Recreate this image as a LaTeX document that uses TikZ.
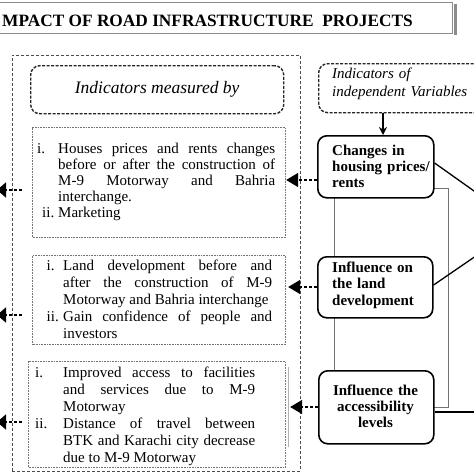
\documentclass[tikz,border=0pt]{standalone}
\usepackage{fontspec}
\setmainfont{Liberation Serif}
\usetikzlibrary{arrows.meta}
\newcommand\lbl[2]{\leavevmode\llap{\makebox[#1][l]{#2}}}
\newcommand\listpar[2]{\parbox[t]{#1}{\parindent=0pt\emergencystretch=0pt #2}}
\begin{document}
\begin{tikzpicture}[x=1pt,y=-1pt,
  outerbox/.style={draw=black!70, line width=0.6pt, dash pattern=on 3pt off 2pt, inner sep=0pt},
  roundbox/.style={draw=black!85, line width=1.4pt, dash pattern=on 3pt off 1.5pt, rounded corners=9pt, inner sep=0pt},
  listbox/.style={draw=black!55, fill=white, line width=1.2pt, dash pattern=on 1pt off 0.6pt, inner sep=0pt},
  varbox/.style={draw=black, fill=white, line width=1.6pt, rounded corners=9pt, inner sep=0pt},
  listtext/.style={inner sep=0pt, anchor=base west, font=\fontsize{15}{16}\selectfont},
  vartext/.style={inner sep=0pt, anchor=base west, align=left, text width=110pt, font=\bfseries\fontsize{15}{16.3}\selectfont},
  darrow/.style={line width=1.6pt, dash pattern=on 3pt off 2pt, -{Triangle[length=12pt,width=14pt]}},
  larrow/.style={line width=1.6pt, dash pattern=on 3pt off 2pt, -{Triangle[length=9pt,width=15pt]}},
  downarrow/.style={line width=1.3pt, -{Stealth[length=8pt,width=8pt]}},
  grayline/.style={draw=black!55, line width=1pt},
  blackline/.style={draw=black, line width=1.3pt}
]
\useasboundingbox (0,0) rectangle (474,474);
\clip (0,0) rectangle (474,474);
\fill[white] (0,0) rectangle (474,474);

% title
\node[draw=black!45, line width=0.8pt, minimum width=470pt, minimum height=31pt, anchor=north east, inner sep=0pt] (tb) at (453,2) {};
\draw[line width=3pt, black!45] (455.5,4) -- (455.5,35);
\node[anchor=base west, inner sep=0pt, font=\bfseries\fontsize{17.3}{20}\selectfont] (tt) at (2,26) {MPACT OF ROAD INFRASTRUCTURE\ \ PROJECTS};

% outer dashed frame
\node[outerbox, minimum width=288pt, minimum height=416pt, anchor=north west] (out) at (12,55) {};

% indicators measured by
\node[roundbox, minimum width=253pt, minimum height=48pt, anchor=north west,
      font=\itshape\fontsize{17.5}{19}\selectfont] (m) at (30,65) {\raisebox{-2pt}{Indicators measured by}};

% list boxes
\node[listbox, minimum width=253pt, minimum height=110pt, anchor=north west] (b1) at (32,127) {};
\node[listbox, minimum width=253pt, minimum height=89pt, anchor=north west] (b2) at (32,255) {};
\node[listbox, minimum width=257pt, minimum height=106pt, anchor=north west] (b3) at (28,361) {};
\draw[black!30, line width=0.5pt] (288,367) -- (288,447);

\node[listtext] (t1) at (58,153) {\listpar{217pt}{%
\lbl{21pt}{i.}Houses prices and rents changes\linebreak
before or after the construction of\linebreak
M-9 Motorway and Bahria\linebreak
interchange.\\
\lbl{16pt}{ii.}Marketing}};

\node[listtext, font=\fontsize{15}{17}\selectfont] (t2) at (63,270) {\listpar{209pt}{%
\lbl{16.5pt}{i.}Land development before and\linebreak
after the construction of M-9\linebreak
Motorway and Bahria interchange\\
\lbl{16.5pt}{ii.}Gain confidence of people and\linebreak
investors}};

\node[listtext, font=\fontsize{15}{17}\selectfont] (t3) at (63,377.5) {\listpar{192pt}{%
\lbl{28pt}{i.}Improved access to facilities\linebreak
and services due to M-9\linebreak
Motorway\\
\lbl{28pt}{ii.}Distance of travel between\linebreak
BTK and Karachi city decrease\linebreak
due to M-9 Motorway}};

% helper coordinates
\coordinate (ax) at (383,0);
\coordinate (ga) at (448,188);
\coordinate (gb) at (448,407);
\coordinate (o1) at (505,213);
\coordinate (o2) at (505,236);
\coordinate (o3) at (505,412);
\coordinate (r1) at (0,180);
\coordinate (r2) at (0,287);
\coordinate (r3) at (0,407);
\coordinate (l1) at (-3,190);
\coordinate (l2) at (-3,315);
\coordinate (l3) at (-3,422);
\coordinate (e1) at (0,163);
\coordinate (e2) at (0,285);
\coordinate (e3) at (0,412);

% gray connectors (behind boxes)
\draw[grayline] (334,197) -- (334,370);
\draw[grayline] (433,188) -- (ga) -- (gb) -- (433,407);

% independent variables box
\node[roundbox, minimum width=200pt, minimum height=49pt, anchor=north west] (iv) at (318,63) {};
\node[inner sep=0pt, anchor=base west, align=left, text width=200pt, font=\itshape\fontsize{15}{18.5}\selectfont] (ivt) at (332,78) {Indicators of\\independent Variables};

% variable boxes
\node[varbox, minimum width=116pt, minimum height=62pt, anchor=north west] (v1) at (317,135) {};
\node[vartext] (vt1) at (332,155) {Changes in\\housing prices/\\rents};
\node[varbox, minimum width=115pt, minimum height=61pt, anchor=north west] (v2) at (317,256) {};
\node[vartext] (vt2) at (332,272.5) {Influence on\\the land\\development};
\node[varbox, minimum width=115pt, minimum height=73pt, anchor=north west] (v3) at (318,370) {};
\node[vartext, anchor=base, align=center] (vt3) at (375.5,395) {Influence the\\accessibility\\levels};

% arrows
\draw[downarrow] (iv.south -| ax) -- (v1.north -| ax);
\draw[darrow] (v1.west |- r1) -- (b1.east |- r1);
\draw[darrow] (v2.west |- r2) -- ([xshift=2pt]b2.east |- r2);
\draw[darrow] (v3.west |- r3) -- ([xshift=4pt]b3.east |- r3);
\draw[larrow] ([xshift=-10pt]b1.west |- l1) -- (l1);
\draw[larrow] ([xshift=-10pt]b2.west |- l2) -- (l2);
\draw[larrow] ([xshift=-6pt]b3.west |- l3) -- (l3);

% black lines leaving the picture
\draw[blackline] (v1.east |- e1) -- (o1);
\draw[blackline] (v2.east |- e2) -- (o2);
\draw[blackline] (v3.east |- e3) -- (o3);
\end{tikzpicture}
\end{document}
